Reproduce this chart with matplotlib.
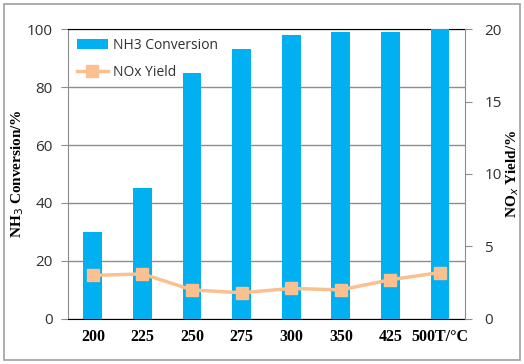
import numpy as np
import matplotlib.pyplot as plt
from matplotlib.patches import Rectangle

temps = ['200', '225', '250', '275', '300', '350', '425', '500T/°C']
nh3_conversion = [30, 45, 85, 93, 98, 99, 99, 100]
nox_yield = [3.0, 3.1, 2.0, 1.8, 2.1, 2.0, 2.7, 3.2]

bar_color = '#00B0F0'
line_color = '#FAC090'
grid_color = '#8C8C8C'

fig = plt.figure(figsize=(5.24, 3.64), dpi=100)
fig.patches.append(Rectangle((0.008, 0.011), 0.984, 0.978, transform=fig.transFigure,
                             fill=False, edgecolor='#A0A0A0', linewidth=1.2))

ax = fig.add_axes([0.130, 0.124, 0.757, 0.796])
x = np.arange(len(temps))
bars = ax.bar(x, nh3_conversion, width=0.38, color=bar_color, zorder=3, label='NH3 Conversion')
ax.set_xlim(-0.5, len(temps) - 0.5)
ax.set_ylim(0, 100)
ax.set_yticks(range(0, 101, 20))
ax.yaxis.grid(True, color=grid_color, linewidth=1.0, zorder=0)
ax.set_xticks(x)
ax.set_xticklabels(temps, family='Liberation Serif', fontweight='bold', fontsize=11.5)
ax.tick_params(axis='x', length=0, pad=7)
ax.tick_params(axis='y', direction='out', length=5, color=grid_color, labelsize=11,
               labelcolor='#303030', pad=6)
for lbl in ax.get_yticklabels():
    lbl.set_family('Open Sans')
ax.spines['left'].set_color(grid_color)
ax.spines['top'].set_color('black')
ax.spines['bottom'].set_color('black')
ax.spines['right'].set_visible(False)
ax.set_ylabel('NH$_3$ Conversion/%', family='Liberation Serif', fontweight='bold', fontsize=11)
ax.yaxis.set_label_coords(-0.105, 0.5)

ax2 = ax.twinx()
line, = ax2.plot(x, nox_yield, color=line_color, linewidth=2.5, marker='s', markersize=9,
                 markerfacecolor=line_color, markeredgecolor=line_color, zorder=4, label='NOx Yield')
ax2.set_ylim(0, 20)
ax2.set_yticks(range(0, 21, 5))
ax2.tick_params(axis='y', direction='out', length=5, color=grid_color, labelsize=11,
                labelcolor='#303030', pad=9)
for lbl in ax2.get_yticklabels():
    lbl.set_family('Open Sans')
ax2.spines['right'].set_color(grid_color)
for s in ['left', 'top', 'bottom']:
    ax2.spines[s].set_visible(False)
ax2.set_ylabel('NO$_x$ Yield/%', family='Liberation Serif', fontweight='bold', fontsize=11,
               rotation=90)
ax2.yaxis.set_label_coords(1.10, 0.5)

leg = ax2.legend([bars, line], ['NH3 Conversion', 'NOx Yield'], loc='upper left',
                 bbox_to_anchor=(0.0, 1.0), borderaxespad=0.25, frameon=False,
                 prop={'family': 'Open Sans', 'size': 10}, handlelength=2.2,
                 labelspacing=0.85, handletextpad=0.4)
leg.set_zorder(10)
for t in leg.get_texts():
    t.set_color('#303030')

fig.savefig('out.png', dpi=100)
